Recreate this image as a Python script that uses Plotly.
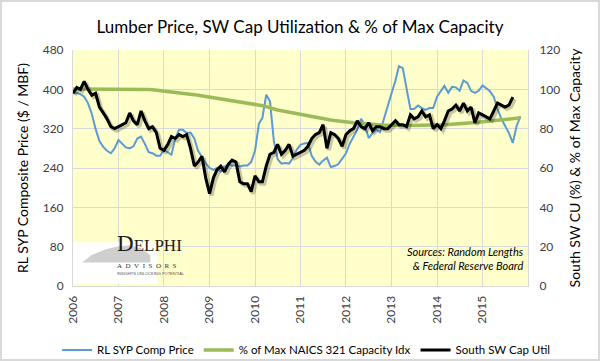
import pandas as pd
import plotly.graph_objects as go

# Monthly data, Jan 2006 onward
price = [392, 393, 390, 385, 372, 350, 320, 295, 283, 275, 270, 280,
         297, 288, 282, 280, 284, 300, 304, 289, 272, 270, 265, 265,
         277, 272, 267, 300, 318, 318, 311, 312, 300, 275, 262, 250,
         240, 236, 240, 233, 243, 247, 245, 245, 243, 245, 245, 252,
         275, 330, 342, 389, 376, 295, 258, 249, 250, 249, 260, 277,
         287, 290, 291, 265, 253, 247, 255, 261, 242, 244, 248, 258,
         270, 290, 304, 318, 340, 327, 301, 311, 318, 313, 340, 368,
         392, 418, 447, 443, 400, 360, 360, 367, 362, 358, 362, 362,
         385, 398, 407, 393, 405, 404, 397, 418, 413, 397, 393, 397,
         408, 402, 396, 385, 360, 340, 325, 311, 291, 325, 345]

max_cap = [100.2, 100.2, 100.3, 100.3, 100.3, 100.3, 100.2, 100.2, 100.1, 100.1, 100.1, 100.2,
           100.2, 100.3, 100.3, 100.3, 100.2, 100.2, 100.1, 100.0, 99.9, 99.8, 99.6, 99.4,
           99.2, 99.0, 98.7, 98.5, 98.2, 98.0, 97.8, 97.5, 97.3, 97.0, 96.7, 96.4,
           96.1, 95.8, 95.5, 95.2, 94.9, 94.6, 94.3, 94.0, 93.7, 93.4, 93.1, 92.8,
           92.5, 92.2, 91.7, 91.2, 90.5, 90.0, 89.5, 89.1, 88.7, 88.3, 88.0, 87.6,
           87.2, 86.9, 86.6, 86.2, 85.8, 85.4, 85.0, 84.7, 84.4, 84.1, 83.8, 83.6,
           83.4, 83.2, 83.0, 82.9, 82.7, 82.5, 82.3, 82.1, 82.0, 81.9, 81.8, 81.7,
           81.6, 81.6, 81.6, 81.6, 81.6, 81.6, 81.6, 81.7, 81.7, 81.7, 81.8, 81.8,
           81.8, 81.9, 82.0, 82.1, 82.2, 82.4, 82.6, 82.8, 82.9, 83.0, 83.2, 83.3,
           83.5, 83.7, 83.9, 84.1, 84.3, 84.5, 84.7, 84.9, 85.1, 85.3, 85.5]

cap_util = [98, 101, 100, 104, 100, 97, 98, 91, 88, 85, 81, 80,
            81, 82, 83, 88, 84, 82, 89, 84, 80, 81, 78, 70,
            69, 72, 76, 75, 77, 76, 77, 70, 61, 63, 66, 55,
            47, 55, 59, 61, 58, 62, 64, 63, 53, 52, 52, 48,
            56, 53, 53, 61, 67, 68, 72, 67, 69, 72, 66, 67,
            68, 69, 71, 75, 77, 78, 82, 70, 78, 77, 75, 71,
            77, 79, 80, 84, 81, 80, 83, 79, 81, 81, 80, 80,
            82, 84, 82, 82, 81, 87, 85, 86, 89, 86, 87, 80,
            82, 80, 84, 89, 90, 92, 89, 93, 89, 91, 83, 88,
            87, 86, 85, 89, 93, 92, 91, 92, 96]

years = [str(y) for y in range(2006, 2016)]

dates_price = pd.date_range("2006-01-01", periods=len(price), freq="MS")
dates_cap = pd.date_range("2006-01-01", periods=len(max_cap), freq="MS")
dates_util = pd.date_range("2006-01-01", periods=len(cap_util), freq="MS")

fig = go.Figure()
fig.add_trace(go.Scatter(x=dates_price, y=price, mode="lines", name="RL SYP Comp Price",
                         line=dict(color="#5B9BD5", width=2), yaxis="y"))
fig.add_trace(go.Scatter(x=dates_cap, y=max_cap, mode="lines", name="% of Max NAICS 321 Capacity Idx",
                         line=dict(color="#9BBB59", width=3.5), yaxis="y2"))
# shadow of black line
fig.add_trace(go.Scatter(x=dates_util, y=cap_util, mode="lines", showlegend=False, hoverinfo="skip",
                         line=dict(color="rgba(0,0,0,0.22)", width=4), xaxis="x2", yaxis="y3"))
fig.add_trace(go.Scatter(x=dates_util, y=cap_util, mode="lines", name="South SW Cap Util",
                         line=dict(color="#000000", width=3), yaxis="y2"))

font_fam = "Lato, Open Sans, sans-serif"
tick_font = dict(family=font_fam, size=12, color="#404040")

fig.update_layout(
    width=600, height=361,
    margin=dict(l=73, r=72, t=50, b=75, autoexpand=False),
    paper_bgcolor="white",
    plot_bgcolor="#FFFFCC",
    title=dict(text="Lumber Price, SW Cap Utilization & % of Max Capacity",
               x=0.5, xanchor="center", y=0.925, yanchor="middle",
               font=dict(family=font_fam, size=17, color="#000000")),
    xaxis=dict(type="date", range=["2006-01-01", "2016-01-01"],
               tickvals=[f"{y}-01-01" for y in years], ticktext=years,
               tickangle=-90, tickfont=tick_font, automargin=False,
               showgrid=True, gridcolor="#D9D9D9", gridwidth=1,
               showline=True, linecolor="#D9D9D9", zeroline=False, ticks="",
               ticklabelstandoff=4),
    xaxis2=dict(type="date", overlaying="x", range=["2005-12-16", "2015-12-16"], visible=False),
    yaxis=dict(range=[0, 480], tickvals=[0, 80, 160, 240, 320, 400, 480], tickfont=tick_font,
               automargin=False, ticklabelstandoff=6,
               title=dict(text="RL SYP Composite Price ($ / MBF)",
                          font=dict(family=font_fam, size=14, color="#000000"), standoff=10),
               showgrid=True, gridcolor="#D9D9D9", gridwidth=1,
               showline=True, linecolor="#D9D9D9", zeroline=False, ticks=""),
    yaxis2=dict(range=[0, 120], tickvals=[0, 20, 40, 60, 80, 100, 120], tickfont=tick_font,
                overlaying="y", side="right", automargin=False, ticklabelstandoff=8,
                title=dict(text="South SW CU (%) & % of Max Capacity",
                           font=dict(family=font_fam, size=14, color="#000000"), standoff=10),
                showgrid=False, showline=True, linecolor="#D9D9D9", zeroline=False, ticks=""),
    yaxis3=dict(range=[1.0, 121.0], overlaying="y", visible=False),
    legend=dict(orientation="h", x=-0.035, xanchor="left", y=-0.271, yanchor="middle",
                font=dict(family=font_fam, size=11.5, color="#000000"),
                bgcolor="rgba(0,0,0,0)", itemwidth=30, tracegroupgap=0),
    showlegend=True,
)

# outer border
fig.add_shape(type="rect", xref="paper", yref="paper", x0=-72/455, x1=(455+71)/455,
              y0=-74/236, y1=(236+49)/236,
              line=dict(color="#D9D9D9", width=2), fillcolor="rgba(0,0,0,0)", layer="below")

# logo box
fig.add_shape(type="rect", xref="paper", yref="paper", x0=0.0, x1=0.185, y0=0.008, y1=0.185,
              line=dict(width=0), fillcolor="white", layer="above")
fig.add_shape(type="path", xref="paper", yref="paper",
              path="M 0.02 0.10 L 0.04 0.13 L 0.07 0.155 L 0.10 0.168 L 0.125 0.172 L 0.15 0.16 L 0.17 0.13 L 0.17 0.10 Z",
              line=dict(width=0), fillcolor="#CFCFCF", layer="above")
fig.add_annotation(xref="paper", yref="paper", x=0.093, y=0.118,
                   text="<span style='font-size:23px'>D</span>ELPHI", showarrow=False,
                   font=dict(family="Liberation Serif, serif", size=17, color="#1a1a1a"))
fig.add_annotation(xref="paper", yref="paper", x=0.093, y=0.058,
                   text="A&nbsp;&nbsp;D&nbsp;&nbsp;V&nbsp;&nbsp;I&nbsp;&nbsp;S&nbsp;&nbsp;O&nbsp;&nbsp;R&nbsp;&nbsp;S",
                   showarrow=False,
                   font=dict(family="Liberation Serif, serif", size=7, color="#333333"))
fig.add_annotation(xref="paper", yref="paper", x=0.093, y=0.033, text="INSIGHTS UNLOCKING POTENTIAL", showarrow=False,
                   font=dict(family="Liberation Sans, sans-serif", size=4, color="#555555"))

# sources
fig.add_annotation(xref="paper", yref="paper", x=0.995, y=0.05, xanchor="right", yanchor="bottom",
                   align="right", showarrow=False,
                   text="<i>Sources: Random Lengths<br>&amp; Federal Reserve Board</i>",
                   font=dict(family=font_fam, size=11, color="#000000"))

fig.write_html("out.html", config={"displayModeBar": False},
               post_script="document.body.style.margin='0';")
